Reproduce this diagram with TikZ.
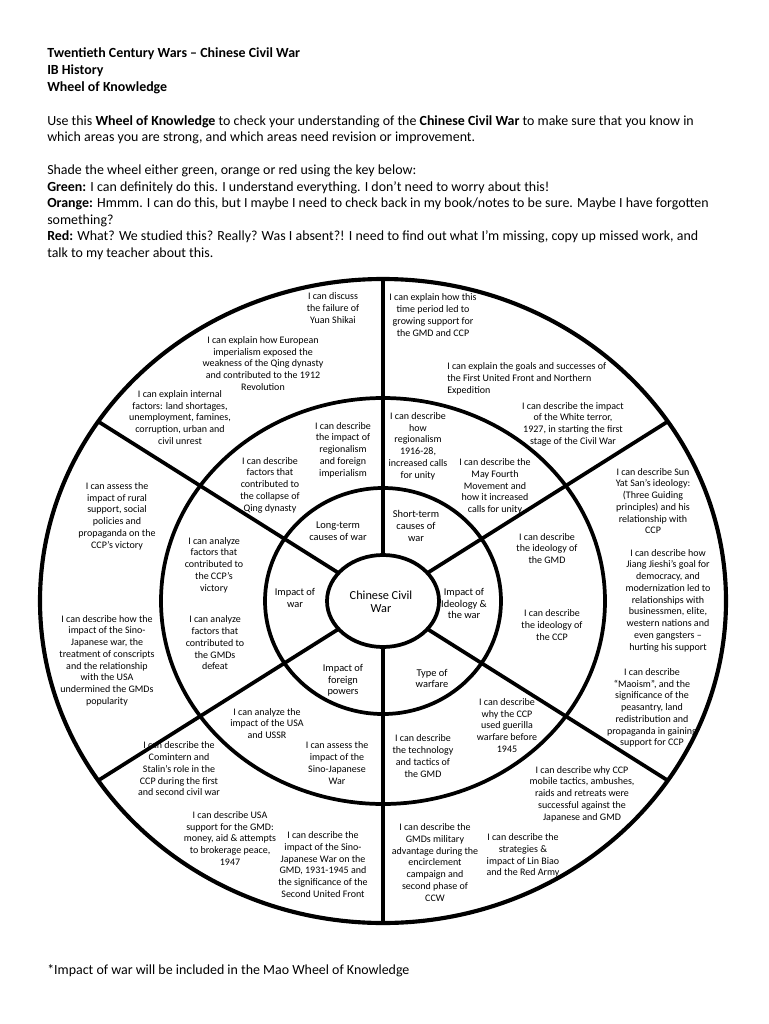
\documentclass[tikz,border=0pt]{standalone}
\usepackage{fontspec}
\setmainfont{Carlito}
\begin{document}
\begin{tikzpicture}[x=0.75pt,y=-0.75pt,
  wheelline/.style={line width=2.8pt},
  outerline/.style={line width=3.1pt},
  wtext/.style={font=\fontsize{7.5}{8.8}\selectfont, align=center, inner sep=0pt},
  itext/.style={font=\fontsize{7.8}{8.8}\selectfont, align=center, inner sep=0pt},
  ctext/.style={font=\fontsize{9.2}{9.6}\selectfont, align=center, inner sep=0pt},
  hdr/.style={anchor=base west, inner sep=0pt, font=\fontsize{10.45}{12.45}\selectfont}]
\useasboundingbox (0,0) rectangle (768,1024);
\fill[white] (0,0) rectangle (768,1024);

% header
\node[hdr] (h1) at (47,57.5) {\bfseries Twentieth Century Wars – Chinese Civil War};
\node[hdr] (h2) at (47,74.5) {\bfseries IB History};
\node[hdr] (h3) at (47,91.5) {\bfseries Wheel of Knowledge};
\node[hdr] (h4) at (47,125) {Use this \textbf{Wheel of Knowledge} to check your understanding of the \textbf{Chinese Civil War} to make sure that you know in};
\node[hdr] (h5) at (47,141.5) {which areas you are strong, and which areas need revision or improvement.};
\node[hdr] (h6) at (47,174.5) {Shade the wheel either green, orange or red using the key below:};
\node[hdr] (h7) at (47,191) {\textbf{Green:} I can definitely do this. I understand everything. I don't need to worry about this!};
\node[hdr] (h8) at (47,207.5) {\textbf{Orange:} Hmmm. I can do this, but I maybe I need to check back in my book/notes to be sure. Maybe I have forgotten};
\node[hdr] (h9) at (47,224) {something?};
\node[hdr] (h10) at (47,240.5) {\textbf{Red:} What? We studied this? Really? Was I absent?! I need to find out what I’m missing, copy up missed work, and};
\node[hdr] (h11) at (47,257) {talk to my teacher about this.};
\node[hdr] (foot) at (47,974) {*Impact of war will be included in the Mao Wheel of Knowledge};

% wheel
\coordinate (c) at (383,601);
\draw[outerline] (c) ellipse [x radius=257.25pt, y radius=241.5pt];
\draw[wheelline] (c) ellipse [x radius=166.5pt, y radius=152.25pt];
\draw[wheelline] (c) ellipse [x radius=88.5pt, y radius=84.75pt];
\draw[wheelline] (c) ellipse [x radius=42pt, y radius=34.5pt];
\coordinate (tI) at (383,555);   \coordinate (tO) at (383,279);
\coordinate (bI) at (383,647);   \coordinate (bO) at (383,923);
\coordinate (ulI) at (338.6,573); \coordinate (ulO) at (98.2,421.5);
\coordinate (urI) at (427.4,573); \coordinate (urO) at (667.8,421.5);
\coordinate (llI) at (338.6,629); \coordinate (llO) at (98.2,780.5);
\coordinate (lrI) at (427.4,629); \coordinate (lrO) at (667.8,780.5);
\draw[wheelline] (tI) -- (tO);
\draw[wheelline] (bI) -- (bO);
\draw[wheelline] (ulI) -- (ulO);
\draw[wheelline] (urI) -- (urO);
\draw[wheelline] (llI) -- (llO);
\draw[wheelline] (lrI) -- (lrO);

% centre
\node[ctext] (cw) at (381,601.5) {Chinese Civil\\War};

% inner ring
\node[itext] (long) at (338,531.5) {Long-term\\causes of war};
\node[itext] (short) at (416,526) {Short-term\\causes of\\war};
\node[itext] (ideo) at (464,603.5) {Impact of\\Ideology \&\\the war};
\node[itext] (type) at (432,678.5) {Type of\\warfare};
\node[itext] (foreign) at (343,680.5) {Impact of\\foreign\\powers};
\node[itext] (impwar) at (295,598) {Impact of\\war};

% middle ring
\node[wtext] (regimp) at (343,450) {I can describe\\the impact of\\regionalism\\and foreign\\imperialism};
\node[wtext] (qing) at (270,485) {I can describe\\factors that\\contributed to\\the collapse of\\Qing dynasty};
\node[wtext] (region) at (418,446) {I can describe\\how\\regionalism\\1916-28,\\increased calls\\for unity};
\node[wtext] (mayfourth) at (495,486.5) {I can describe the\\May Fourth\\Movement and\\how it increased\\calls for unity};
\node[wtext] (gmdideo) at (547,548.5) {I can describe\\the ideology of\\the GMD};
\node[wtext] (ccpideo) at (552,625) {I can describe\\the ideology of\\the CCP};
\node[wtext] (guer) at (507,725.5) {I can describe\\why the CCP\\used guerilla\\warfare before\\1945};
\node[wtext] (tech) at (423,756) {I can describe\\the technology\\and tactics of\\the GMD};
\node[wtext] (assess) at (337,763) {I can assess the\\impact of the\\Sino-Japanese\\War};
\node[wtext] (ussr) at (267,723.5) {I can analyze the\\impact of the USA\\and USSR};
\node[wtext] (defeat) at (215,643) {I can analyze\\factors that\\contributed to\\the GMDs\\defeat};
\node[wtext] (victory) at (214,565) {I can analyze\\factors that\\contributed to\\the CCP’s\\victory};

% outer ring
\node[wtext] (yuan) at (333,308) {I can discuss\\the failure of\\Yuan Shikai};
\node[wtext] (euro) at (263,363.5) {I can explain how European\\imperialism exposed the\\weakness of the Qing dynasty\\and contributed to the 1912\\Revolution};
\node[wtext] (internal) at (180,417.5) {I can explain internal\\factors: land shortages,\\unemployment, famines,\\corruption, urban and\\civil unrest};
\node[wtext] (period) at (433,315) {I can explain how this\\time period led to\\growing support for\\the GMD and CCP};
\node[wtext, align=left, anchor=west] (goals) at (447,379) {I can explain the goals and successes of\\the First United Front and Northern\\Expedition};
\node[wtext] (white) at (573,424) {I can describe the impact\\of the White terror,\\1927, in starting the first\\stage of the Civil War};
\node[wtext] (sun) at (653,501) {I can describe Sun\\Yat San’s ideology:\\(Three Guiding\\principles) and his\\relationship with\\CCP};
\node[wtext] (jiang) at (668,600.5) {I can describe how\\Jiang Jieshi’s goal for\\democracy, and\\modernization led to\\relationships with\\businessmen, elite,\\western nations and\\even gangsters –\\hurting his support};
\node[wtext] (mao) at (652,708) {I can describe\\“Maoism”, and the\\significance of the\\peasantry, land\\redistribution and\\propaganda in gaining\\support for CCP};
\node[wtext] (mobile) at (582,794) {I can describe why CCP\\mobile tactics, ambushes,\\raids and retreats were\\successful against the\\Japanese and GMD};
\node[wtext] (lin) at (523,855.5) {I can describe the\\strategies \&\\impact of Lin Biao\\and the Red Army};
\node[wtext] (encircle) at (435,862.5) {I can describe the\\GMDs military\\advantage during the\\encirclement\\campaign and\\second phase of\\CCW};
\node[wtext] (sjw) at (323,864.5) {I can describe the\\impact of the Sino-\\Japanese War on the\\GMD, 1931-1945 and\\the significance of the\\Second United Front};
\node[wtext] (usa) at (230,838.5) {I can describe USA\\support for the GMD:\\money, aid \& attempts\\to brokerage peace,\\1947};
\node[wtext] (comintern) at (179,769) {I can describe the\\Comintern and\\Stalin’s role in the\\CCP during the first\\and second civil war};
\node[wtext] (conscr) at (107,660.5) {I can describe how the\\impact of the Sino-\\Japanese war, the\\treatment of conscripts\\and the relationship\\with the USA\\undermined the GMDs\\popularity};
\node[wtext] (rural) at (117,516) {I can assess the\\impact of rural\\support, social\\policies and\\propaganda on the\\CCP’s victory};
\end{tikzpicture}
\end{document}
